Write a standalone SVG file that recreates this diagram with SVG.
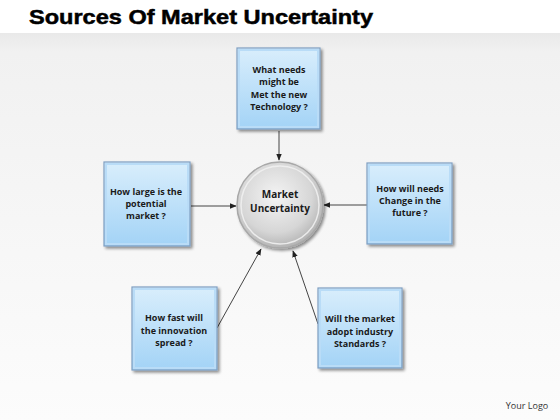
<svg xmlns="http://www.w3.org/2000/svg" width="560" height="420" viewBox="0 0 560 420">
<defs>
<linearGradient id="bg" x1="0" y1="0" x2="0" y2="1">
<stop offset="0" stop-color="#e9e9e9"/>
<stop offset="0.05" stop-color="#f1f1f1"/>
<stop offset="1" stop-color="#fcfcfc"/>
</linearGradient>
<linearGradient id="boxfill" x1="0" y1="0" x2="0" y2="1">
<stop offset="0" stop-color="#d9eefc"/>
<stop offset="1" stop-color="#a3d3f6"/>
</linearGradient>
<radialGradient id="circ" cx="0.45" cy="0.4" r="0.6">
<stop offset="0" stop-color="#f4f4f4"/>
<stop offset="0.7" stop-color="#d6d6d6"/>
<stop offset="1" stop-color="#b4b4b4"/>
</radialGradient>
<filter id="sh" x="-20%" y="-20%" width="140%" height="140%">
<feGaussianBlur in="SourceAlpha" stdDeviation="1.5"/>
<feOffset dx="2" dy="2" result="b"/>
<feComponentTransfer><feFuncA type="linear" slope="0.45"/></feComponentTransfer>
<feMerge><feMergeNode/><feMergeNode in="SourceGraphic"/></feMerge>
</filter>
<marker id="arr" viewBox="0 0 10 10" refX="9" refY="5" markerWidth="7" markerHeight="7" markerUnits="userSpaceOnUse" orient="auto">
<path d="M0,1 L10,5 L0,9 z" fill="#222"/>
</marker>
</defs>
<style>
.box{fill:url(#boxfill);stroke:#7f9fc2;stroke-width:1.2;}
.inner{fill:none;stroke:#b9dcf7;stroke-width:2;}
.t{font-family:"Open Sans","Liberation Sans",sans-serif;font-weight:bold;font-size:9px;fill:#1a1a1a;text-anchor:middle;}
.c{stroke:#444;stroke-width:1;fill:none;marker-end:url(#arr);}
</style>
<rect x="0" y="0" width="560" height="420" fill="#ffffff"/>
<rect x="0" y="33" width="560" height="387" fill="url(#bg)"/>
<text x="29" y="24" font-family="Liberation Sans, Arial, sans-serif" font-weight="bold" font-size="21" textLength="344" lengthAdjust="spacingAndGlyphs" fill="#000" stroke="#000" stroke-width="0.5">Sources Of Market Uncertainty</text>

<g id="connectors">
<line class="c" x1="279" y1="131" x2="279" y2="160"/>
<line class="c" x1="191" y1="206" x2="236" y2="206"/>
<line class="c" x1="367" y1="205" x2="324" y2="205"/>
<line class="c" x1="217" y1="328" x2="261" y2="249"/>
<line class="c" x1="318" y1="324" x2="293" y2="251"/>
</g>

<g id="top">
<g filter="url(#sh)"><rect class="box" x="237" y="48" width="83" height="81"/></g>
<rect class="inner" x="239" y="50" width="79" height="77"/>
<text class="t" x="279" y="73">What needs</text>
<text class="t" x="279" y="85">might be</text>
<text class="t" x="279" y="98">Met the new</text>
<text class="t" x="279" y="110">Technology ?</text>
</g>

<g id="left">
<g filter="url(#sh)"><rect class="box" x="104" y="162" width="86" height="84"/></g>
<rect class="inner" x="106" y="164" width="82" height="80"/>
<text class="t" x="146" y="195">How large is the</text>
<text class="t" x="146" y="207">potential</text>
<text class="t" x="146" y="219">market ?</text>
</g>

<g id="right">
<g filter="url(#sh)"><rect class="box" x="367" y="163" width="85" height="81"/></g>
<rect class="inner" x="369" y="165" width="81" height="77"/>
<text class="t" x="410" y="192">How will needs</text>
<text class="t" x="410" y="204">Change in the</text>
<text class="t" x="410" y="216">future ?</text>
</g>

<g id="bottomleft">
<g filter="url(#sh)"><rect class="box" x="132" y="287" width="85" height="83"/></g>
<rect class="inner" x="134" y="289" width="81" height="79"/>
<text class="t" x="174" y="321">How fast will</text>
<text class="t" x="174" y="334">the innovation</text>
<text class="t" x="174" y="346">spread ?</text>
</g>

<g id="bottomright">
<g filter="url(#sh)"><rect class="box" x="318" y="288" width="84" height="80"/></g>
<rect class="inner" x="320" y="290" width="80" height="76"/>
<text class="t" x="360" y="322">Will the market</text>
<text class="t" x="360" y="335">adopt industry</text>
<text class="t" x="360" y="347">Standards ?</text>
</g>

<g id="center">
<g filter="url(#sh)"><circle cx="280" cy="205" r="43" fill="url(#circ)" stroke="#a8a8a8" stroke-width="1.5"/></g>
<circle cx="280" cy="205" r="39" fill="none" stroke="#f0f0f0" stroke-width="1.5" opacity="0.9"/>
<text class="t" x="280" y="198" style="font-size:10px">Market</text>
<text class="t" x="280" y="212" style="font-size:10px">Uncertainty</text>
</g>

<text x="527" y="409" font-family="Open Sans, Liberation Sans, sans-serif" font-size="9" fill="#333" text-anchor="middle">Your Logo</text>
</svg>
